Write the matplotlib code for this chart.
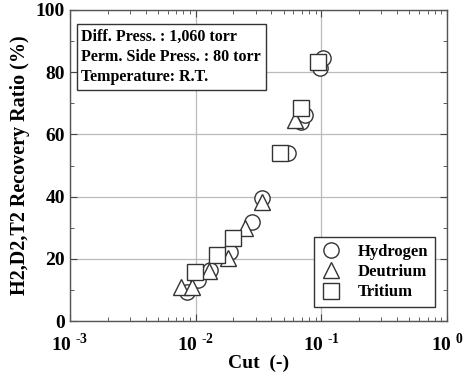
import math
import matplotlib
matplotlib.use('Agg')
import matplotlib.pyplot as plt
from matplotlib.ticker import FixedLocator, LogLocator, NullFormatter, FuncFormatter

plt.rcParams['font.family'] = 'Liberation Serif'
plt.rcParams['font.weight'] = 'bold'
plt.rcParams['mathtext.fontset'] = 'custom'
plt.rcParams['mathtext.rm'] = 'Liberation Serif:bold'
plt.rcParams['mathtext.bf'] = 'Liberation Serif:bold'

# hydrogen
h_cut = [8.5e-3, 1.05e-2, 1.3e-2, 1.87e-2, 2.8e-2, 3.4e-2, 5.45e-2, 6.9e-2, 7.4e-2, 9.8e-2, 1.03e-1]
h_rec = [9.4, 13.2, 16.4, 22.3, 31.9, 39.4, 53.9, 64.0, 66.2, 81.3, 84.5]
# deutrium
d_cut = [7.7e-3, 9.3e-3, 1.28e-2, 1.8e-2, 2.46e-2, 3.4e-2, 6.2e-2]
d_rec = [11.0, 11.0, 16.0, 20.3, 29.8, 38.4, 64.6]
# tritium
t_cut = [9.9e-3, 1.47e-2, 2.0e-2, 4.7e-2, 6.9e-2, 9.45e-2]
t_rec = [15.9, 21.2, 26.6, 53.9, 68.4, 83.4]

fig = plt.figure(figsize=(4.74, 3.76), dpi=100)
ax = fig.add_axes([70/474, 1-321/376, 377/474, 311/376])

mk = dict(ls='none', markersize=11, markerfacecolor='white', markeredgecolor='#333333', markeredgewidth=1.0)
ax.plot(h_cut, h_rec, marker='o', label='Hydrogen', **mk)
ax.plot(d_cut, d_rec, marker='^', label='Deutrium', **mk)
ax.plot(t_cut, t_rec, marker='s', label='Tritium', **mk)

ax.set_xscale('log')
ax.set_xlim(1e-3, 1)
ax.set_ylim(0, 100)
ax.xaxis.set_major_locator(FixedLocator([1e-3, 1e-2, 1e-1, 1]))
ax.xaxis.set_minor_locator(LogLocator(base=10, subs=range(2, 10)))
ax.xaxis.set_minor_formatter(NullFormatter())
ax.xaxis.set_major_formatter(FuncFormatter(
    lambda v, p: r'$\mathbf{10}^{\ \text{%s}}$' % ('-%d' % -round(math.log10(v)) if v < 1 else '0')))
ax.yaxis.set_major_locator(FixedLocator([0, 20, 40, 60, 80, 100]))
ax.yaxis.set_minor_locator(FixedLocator([10, 30, 50, 70, 90]))

ax.grid(True, which='major', color='#bbbbbb', lw=0.9)
ax.tick_params(which='both', direction='in', top=True, right=True, colors='#444444', labelcolor='black')
ax.tick_params(which='major', length=5)
ax.tick_params(which='minor', length=3)
ax.tick_params(axis='x', pad=8, labelsize=14)
ax.tick_params(axis='y', labelsize=14)
for s in ax.spines.values():
    s.set_color('#555555')
    s.set_linewidth(1.0)

ax.set_xlabel('Cut  (-)', fontsize=14, fontweight='bold', labelpad=0)
ax.set_ylabel('H2,D2,T2 Recovery Ratio (%)', fontsize=14.5, fontweight='bold', labelpad=4)

ax.text(0.03, 0.94, 'Diff. Press. : 1,060 torr\nPerm. Side Press. : 80 torr\nTemperature: R.T.',
        transform=ax.transAxes, va='top', ha='left', fontsize=11.5, fontweight='bold', linespacing=1.35,
        bbox=dict(boxstyle='square,pad=0.3', facecolor='white', edgecolor='#333333', lw=1.0))

leg = ax.legend(loc='lower right', bbox_to_anchor=(0.968, 0.045), borderaxespad=0, fancybox=False,
                edgecolor='#333333', framealpha=1, prop={'weight': 'bold', 'size': 12},
                handletextpad=1.0, borderpad=0.4, labelspacing=0.25, handlelength=1.2)
leg.get_frame().set_linewidth(1.0)

fig.savefig('out.png', dpi=100)
